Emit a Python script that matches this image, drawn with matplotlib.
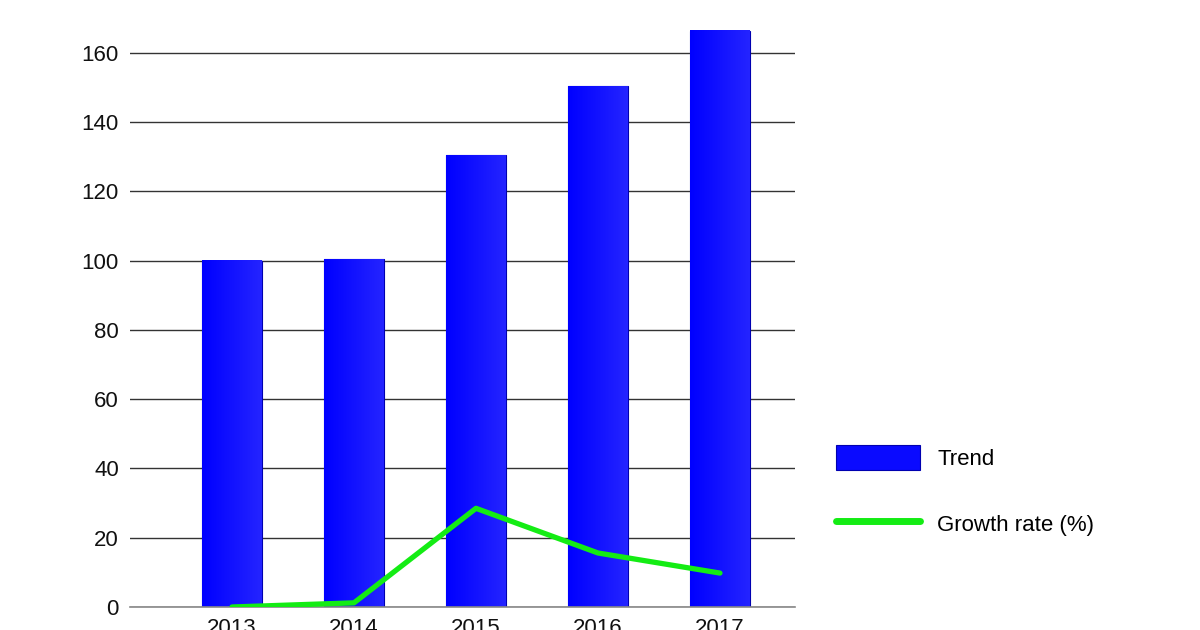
import numpy as np
import matplotlib.pyplot as plt
from matplotlib.colors import LinearSegmentedColormap

plt.rcParams['font.family'] = ['Liberation Sans', 'DejaVu Sans']

years = ['2013', '2014', '2015', '2016', '2017']
trend = [100.0, 100.5, 130.4, 150.4, 166.4]
growth = [0.0, 1.2, 28.5, 15.6, 9.8]

fig = plt.figure(figsize=(12, 6.3), dpi=100)
ax = fig.add_axes([130/1200, 23/630, 665/1200, 607/630])

x = np.arange(len(years))
bars = ax.bar(x, trend, width=0.49, color='#0a0aff', edgecolor='#0000b0',
              linewidth=0.8, label='Trend', zorder=2)

# left-to-right shading like the original bars
blues = LinearSegmentedColormap.from_list('bl', ['#0000ff', '#2424ff'])
grad = np.linspace(0, 1, 64).reshape(1, -1)
for b in bars:
    x0, y0 = b.get_x(), b.get_y()
    ax.imshow(grad, cmap=blues, extent=[x0, x0 + b.get_width(), y0, y0 + b.get_height()],
              aspect='auto', zorder=2.5)

line, = ax.plot(x, growth, color='#14ec14', lw=3.8, solid_capstyle='round',
                solid_joinstyle='round', label='Growth rate (%)', zorder=3)

ax.set_xlim(-0.836, 4.615)
ax.set_ylim(0, 175.3)
ax.set_yticks(range(0, 161, 20))
ax.set_xticks(x)
ax.set_xticklabels(years)
ax.yaxis.grid(True, color='#333333', lw=1.0, zorder=0)
ax.set_axisbelow(True)
for s in ['top', 'right', 'left']:
    ax.spines[s].set_visible(False)
ax.spines['bottom'].set_color('#888888')
ax.spines['bottom'].set_linewidth(1.2)
ax.tick_params(axis='both', length=0, labelsize=16, colors='#111111')
ax.tick_params(axis='y', pad=8)
ax.tick_params(axis='x', pad=8)

leg = fig.legend([bars, line], ['Trend', 'Growth rate (%)'], loc='upper left',
                 bbox_to_anchor=(836/1200, 1 - 445/630), frameon=False, borderpad=0,
                 borderaxespad=0, fontsize=16, handlelength=3.8, handleheight=1.35,
                 labelspacing=1.85, handletextpad=0.75)
leg.legend_handles[1].set_linewidth(5)

fig.savefig('out.png', dpi=100)
